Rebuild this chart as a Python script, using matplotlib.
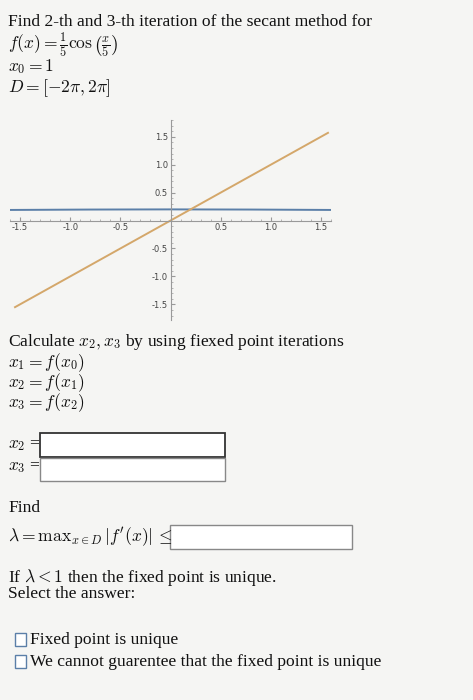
import matplotlib
matplotlib.use("Agg")
import matplotlib.pyplot as plt
from matplotlib.patches import Rectangle

plt.rcParams['mathtext.fontset'] = 'cm'
plt.rcParams['font.family'] = ['Liberation Serif', 'DejaVu Serif']

# data
line_x = [-1.55, 1.57]
line_y = [-1.55, 1.57]
f_x = [-1.6, -0.8, 0.0, 0.8, 1.6]
f_y = [0.190, 0.197, 0.200, 0.197, 0.190]
xticks = [-1.5, -1.0, -0.5, 0.5, 1.0, 1.5]
yticks = [-1.5, -1.0, -0.5, 0.5, 1.0, 1.5]

W, H = 473, 700
fig = plt.figure(figsize=(W/100, H/100), dpi=100)
fig.patch.set_facecolor('#f5f5f3')

def T(x, y, s, size=12.6, **kw):
    fig.text(x/W, 1-y/H, s, fontsize=size, va='center', ha='left', color='#111', **kw)

T(8, 22, "Find 2-th and 3-th iteration of the secant method for")
T(8, 46, r"$f(x)=\frac{1}{5}\cos\left(\frac{x}{5}\right)$")
T(8, 67, r"$x_0=1$")
T(8, 88, r"$D=[-2\pi,2\pi]$")

# plot
ax = fig.add_axes([10/W, 1-320/H, 321/W, 200/H])
ax.set_facecolor('#f5f5f3')
ax.plot(f_x, f_y, color='#5b7fa8', lw=1.4)
ax.plot(line_x, line_y, color='#d4a76a', lw=1.4)
ax.set_xlim(-1.6, 1.6)
ax.set_ylim(-1.78, 1.8)
for s in ['top', 'right']:
    ax.spines[s].set_visible(False)
ax.spines['left'].set_position(('data', 0))
ax.spines['bottom'].set_position(('data', 0))
for s in ['left', 'bottom']:
    ax.spines[s].set_color('#999')
ax.set_xticks(xticks)
ax.set_yticks(yticks)
ax.set_xticklabels([str(v) for v in xticks], fontsize=6, family='DejaVu Sans', color='#444')
ax.set_yticklabels([str(v) for v in yticks], fontsize=6, family='DejaVu Sans', color='#444')
ax.tick_params(direction='in', length=3, color='#999', pad=2)
ax.minorticks_on()
ax.tick_params(which='minor', direction='in', length=1.5, color='#aaa')

T(8, 342, r"Calculate $x_2, x_3$ by using fiexed point iterations")
T(8, 363, r"$x_1=f(x_0)$")
T(8, 383, r"$x_2=f(x_1)$")
T(8, 403, r"$x_3=f(x_2)$")
T(8, 445, r"$x_2$ =")
T(8, 467, r"$x_3$ =")
T(8, 508, "Find")
T(8, 537, r"$\lambda=\mathrm{max}_{x\in D}\,|f'(x)|\,\leq$")
T(8, 577, r"If $\lambda<1$ then the fixed point is unique.")
T(8, 594, "Select the answer:")
T(30, 640, "Fixed point is unique")
T(30, 662, "We cannot guarentee that the fixed point is unique")

def box(x0, y0, x1, y1, ec='#333', lw=1.0):
    fig.patches.append(Rectangle((x0/W, 1-y1/H), (x1-x0)/W, (y1-y0)/H,
                                 transform=fig.transFigure, fill=True, fc='white', ec=ec, lw=lw))
box(40, 433, 225, 457, lw=1.3)
box(40, 458, 225, 481, ec='#888')
box(170, 525, 352, 549, ec='#888')
box(15, 633, 26, 646, ec='#5b7fa8')
box(15, 655, 26, 668, ec='#5b7fa8')

fig.savefig('out.png', dpi=100, facecolor=fig.get_facecolor())
